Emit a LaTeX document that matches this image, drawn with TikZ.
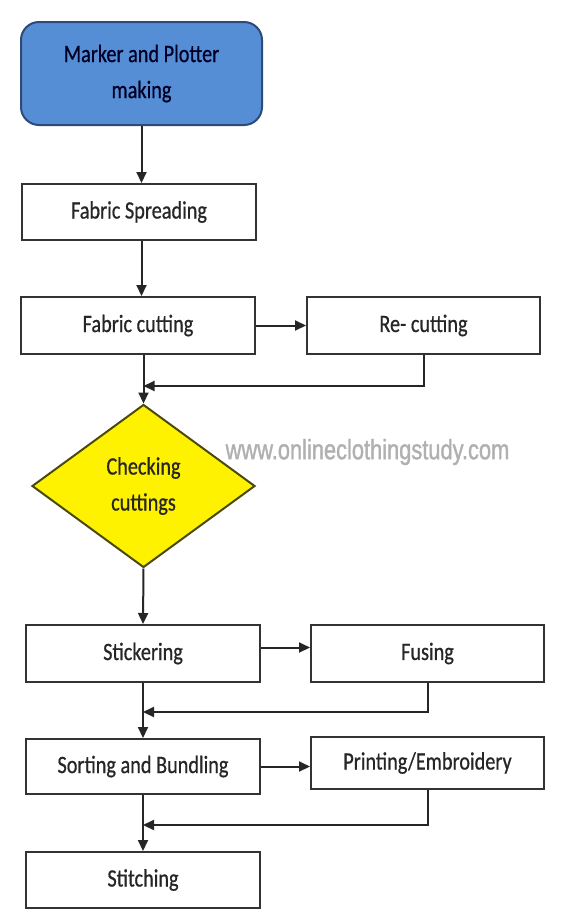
\documentclass[tikz,border=0pt]{standalone}
\usepackage{fontspec}
\usepackage{tikz}
\usepackage{xcolor}
\usetikzlibrary{shapes.geometric,arrows.meta}
\setmainfont[FakeStretch=0.81, FakeBold=0.6]{Carlito}
\newfontfamily\wmfont[FakeStretch=0.78, FakeBold=1.2]{Liberation Sans}
\definecolor{plotblue}{HTML}{558ED5}
\definecolor{plotedge}{HTML}{2E4A78}
\definecolor{boxedge}{HTML}{333333}
\definecolor{chkedge}{HTML}{4A4A10}
\definecolor{wmgray}{HTML}{B0B0B0}

\begin{document}
\begin{tikzpicture}[x=1pt, y=-1pt,
    box/.style={draw=boxedge, line width=2pt, fill=white, minimum width=234pt,
      inner sep=0pt, text=black!85, font=\fontsize{25}{36}\selectfont},
    arr/.style={draw=black!85, line width=2pt, -{Triangle[length=11pt, width=10pt]}}]
  \fill[white] (0,0) rectangle (560,924);
  \useasboundingbox (0,0) rectangle (560,924);
  \node[box, draw=plotedge, fill=plotblue, rounded corners=18pt, minimum width=241pt,
    minimum height=103pt, align=center, text=black!85!blue] (mkr) at (141.5,73.5) {Marker and Plotter\\making};
  \node[box, minimum height=56pt] (spread) at (139,212) {Fabric Spreading};
  \node[box, minimum height=57pt] (cut) at (138,325.5) {Fabric cutting};
  \node[box, minimum height=57pt, minimum width=233pt] (recut) at (423.5,325.5) {Re- cutting};
  \node[box, shape=diamond, draw=chkedge, fill=yellow, aspect=1.37, minimum width=223pt,
    minimum height=163pt, align=center] (check) at (143.5,486) {Checking\\cuttings};
  \node[font=\wmfont\fontsize{28}{30}\selectfont, text=wmgray] (wm) at (367.5,452) {www.onlineclothingstudy.com};
  \node[box, minimum height=57pt] (stick) at (143,653.5) {Stickering};
  \node[box, minimum height=57pt, minimum width=233pt] (fuse) at (427.5,653.5) {Fusing};
  \node[box, minimum height=55pt] (sort) at (143,766.5) {Sorting and Bundling};
  \node[box, minimum height=52pt, minimum width=233pt] (print) at (427.5,763) {Printing/Embroidery};
  \node[box, minimum height=56pt] (stitch) at (143,880) {Stitching};
  \coordinate (j1) at (143.5,386);
  \coordinate (j2) at (143,712);
  \coordinate (j3) at (143,825);
  \draw[arr] (mkr.south) -- (mkr.south |- spread.north);
  \draw[arr] (mkr.south |- spread.south) -- (mkr.south |- cut.north);
  \draw[arr] (cut.east) -- (recut.west);
  \draw[arr] (recut.south) |- (j1);
  \draw[arr] (check.north |- cut.south) -- (check.north);
  \draw[arr] (check.south) -- (stick.north);
  \draw[arr] ([yshift=6pt]stick.east) -- ([yshift=6pt]stick.east -| fuse.west);
  \draw[arr] (fuse.south) |- (j2);
  \draw[arr] (stick.south) -- (sort.north);
  \draw[arr] (sort.east) -- (sort.east -| print.west);
  \draw[arr] (print.south) |- (j3);
  \draw[arr] (sort.south) -- (stitch.north);
\end{tikzpicture}
\end{document}
